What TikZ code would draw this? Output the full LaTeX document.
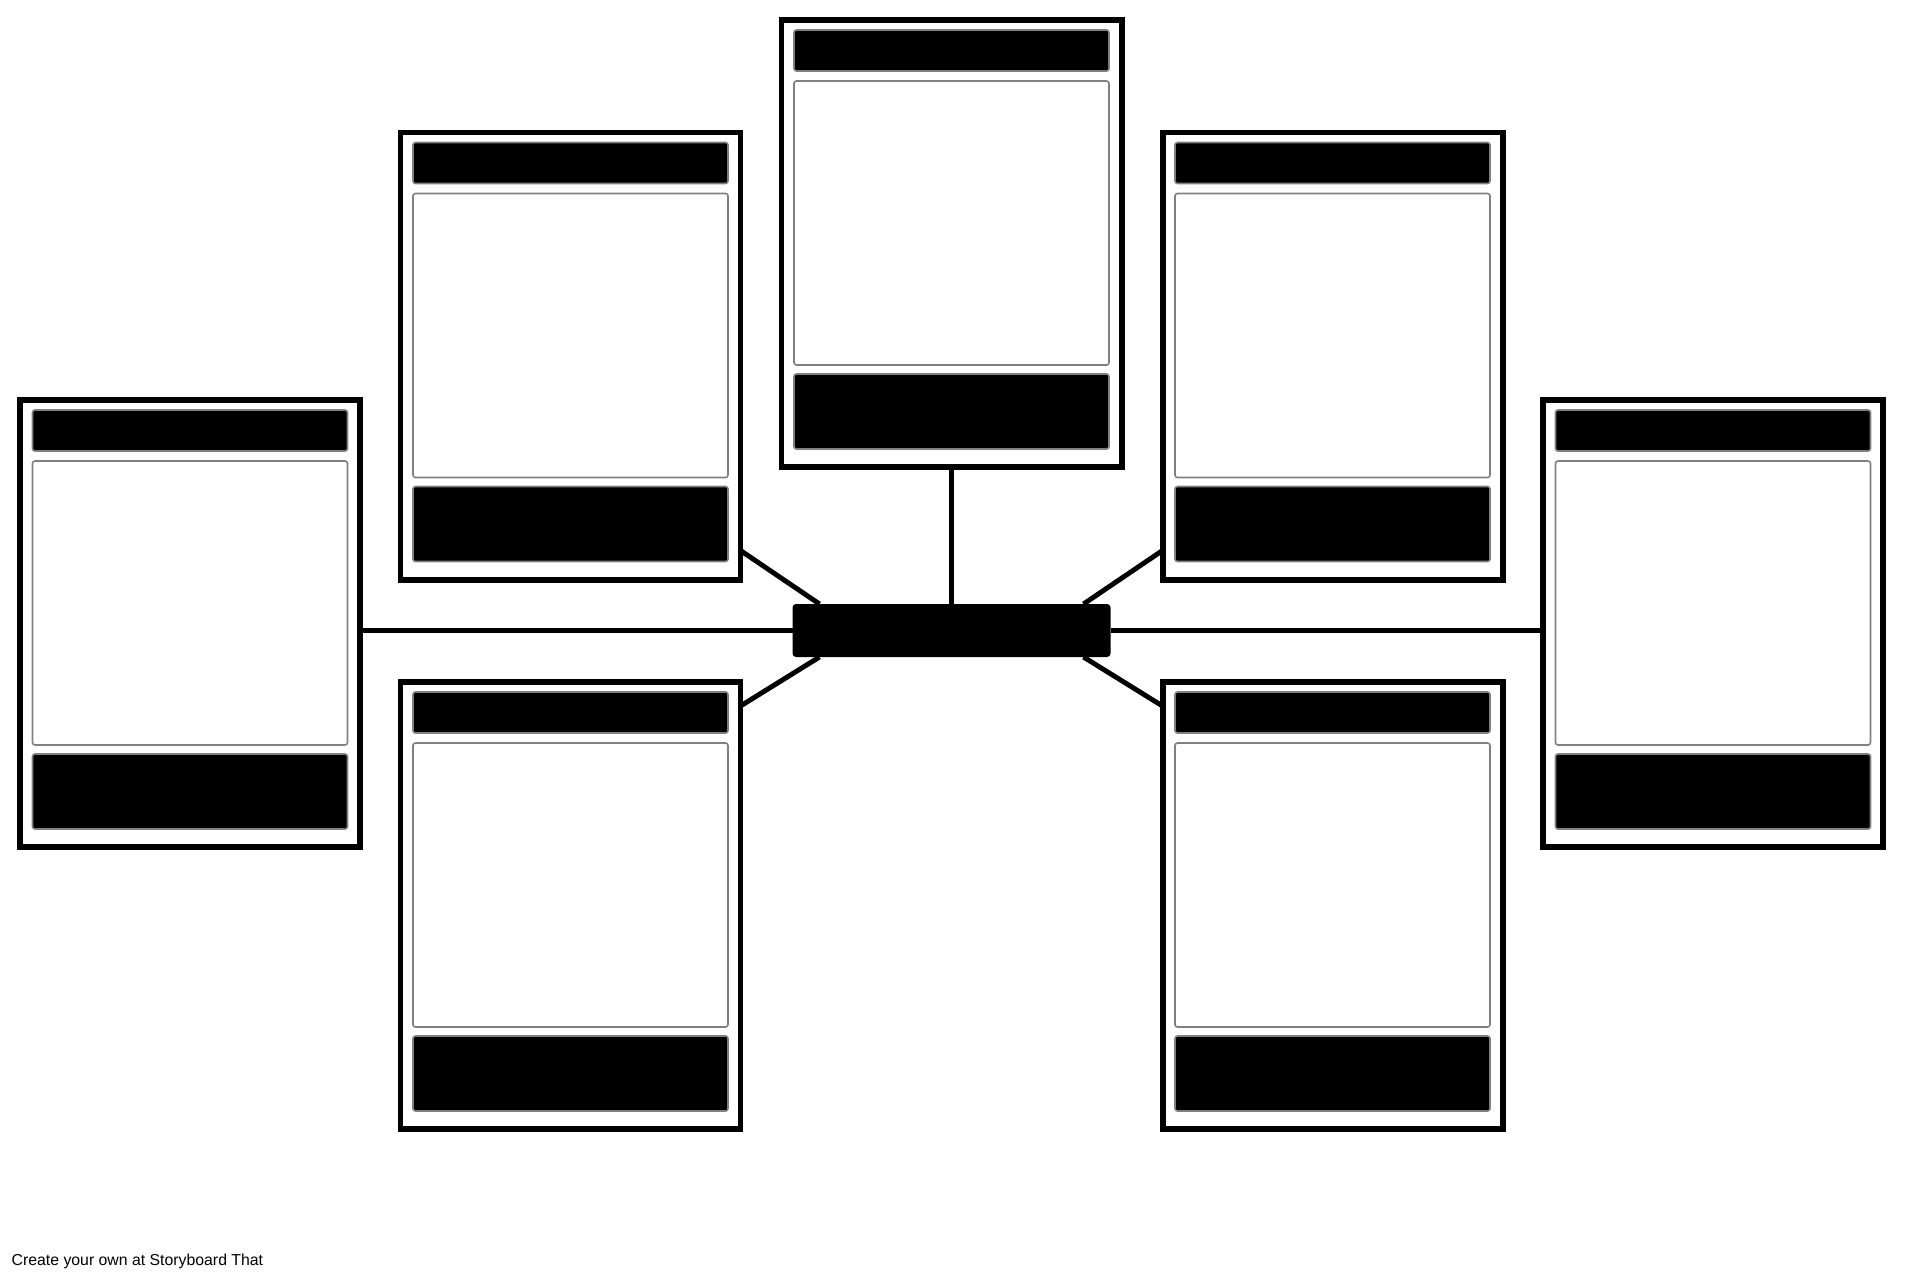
\documentclass[tikz,border=0pt]{standalone}
\usepackage{fontspec}
\setmainfont{Liberation Sans}
\usetikzlibrary{positioning}

\tikzset{
  card/.style={draw, line width=1.7pt, fill=white, minimum width=3.40cm, minimum height=4.47cm, inner sep=0pt, outer sep=0pt},
  panel/.style={draw=gray, line width=0.45pt, rounded corners=0.7pt, minimum width=3.15cm, inner sep=0pt, outer sep=0pt},
  titlebar/.style={panel, fill=black, minimum height=0.41cm},
  picbox/.style={panel, fill=white, minimum height=2.84cm},
  capbar/.style={panel, fill=black, minimum height=0.75cm},
  hub/.style={fill=black, rounded corners=1pt, minimum width=3.18cm, minimum height=0.53cm, inner sep=0pt, outer sep=0pt},
  link/.style={line width=1.4pt}
}

% one story card: frame, title bar, picture box, caption bar
\newcommand{\StoryCard}[2]{%
  \node[card] (#1) at (#2) {};
  \node[titlebar, below=0.10cm of #1.north] (#1-title) {};
  \node[picbox, below=0.10cm of #1-title] (#1-pic) {};
  \node[capbar, below=0.09cm of #1-pic] (#1-cap) {};
}

\begin{document}
\begin{tikzpicture}
        \useasboundingbox (0,0) rectangle (19.05,-12.78);

        \StoryCard{L}{1.90,-6.235}
        \StoryCard{UL}{5.705,-3.56}
        \StoryCard{T}{9.515,-2.435}
        \StoryCard{UR}{13.325,-3.56}
        \StoryCard{R}{17.13,-6.235}
        \StoryCard{LL}{5.705,-9.055}
        \StoryCard{LR}{13.325,-9.055}

        \node[hub] (hub) at (9.515,-6.305) {};

        \draw[link] (hub.west) -- (hub.west -| L.east);
        \draw[link] (hub.east) -- (hub.east -| R.west);
        \draw[link] (T.south) -- (T.south |- hub.north);
        \draw[link] ([yshift=0.29cm]UL.south east) -- ([xshift=0.27cm]hub.north west);
        \draw[link] ([yshift=-0.24cm]LL.north east) -- ([xshift=0.27cm]hub.south west);
        \draw[link] ([yshift=0.29cm]UR.south west) -- ([xshift=-0.27cm]hub.north east);
        \draw[link] ([yshift=-0.24cm]LR.north west) -- ([xshift=-0.27cm]hub.south east);

        \node[anchor=base west, inner sep=0pt, font=\fontsize{4.5}{5}\selectfont] (credit) at (0.11,-12.65) {Create your own at Storyboard That};
      \end{tikzpicture}
\end{document}
